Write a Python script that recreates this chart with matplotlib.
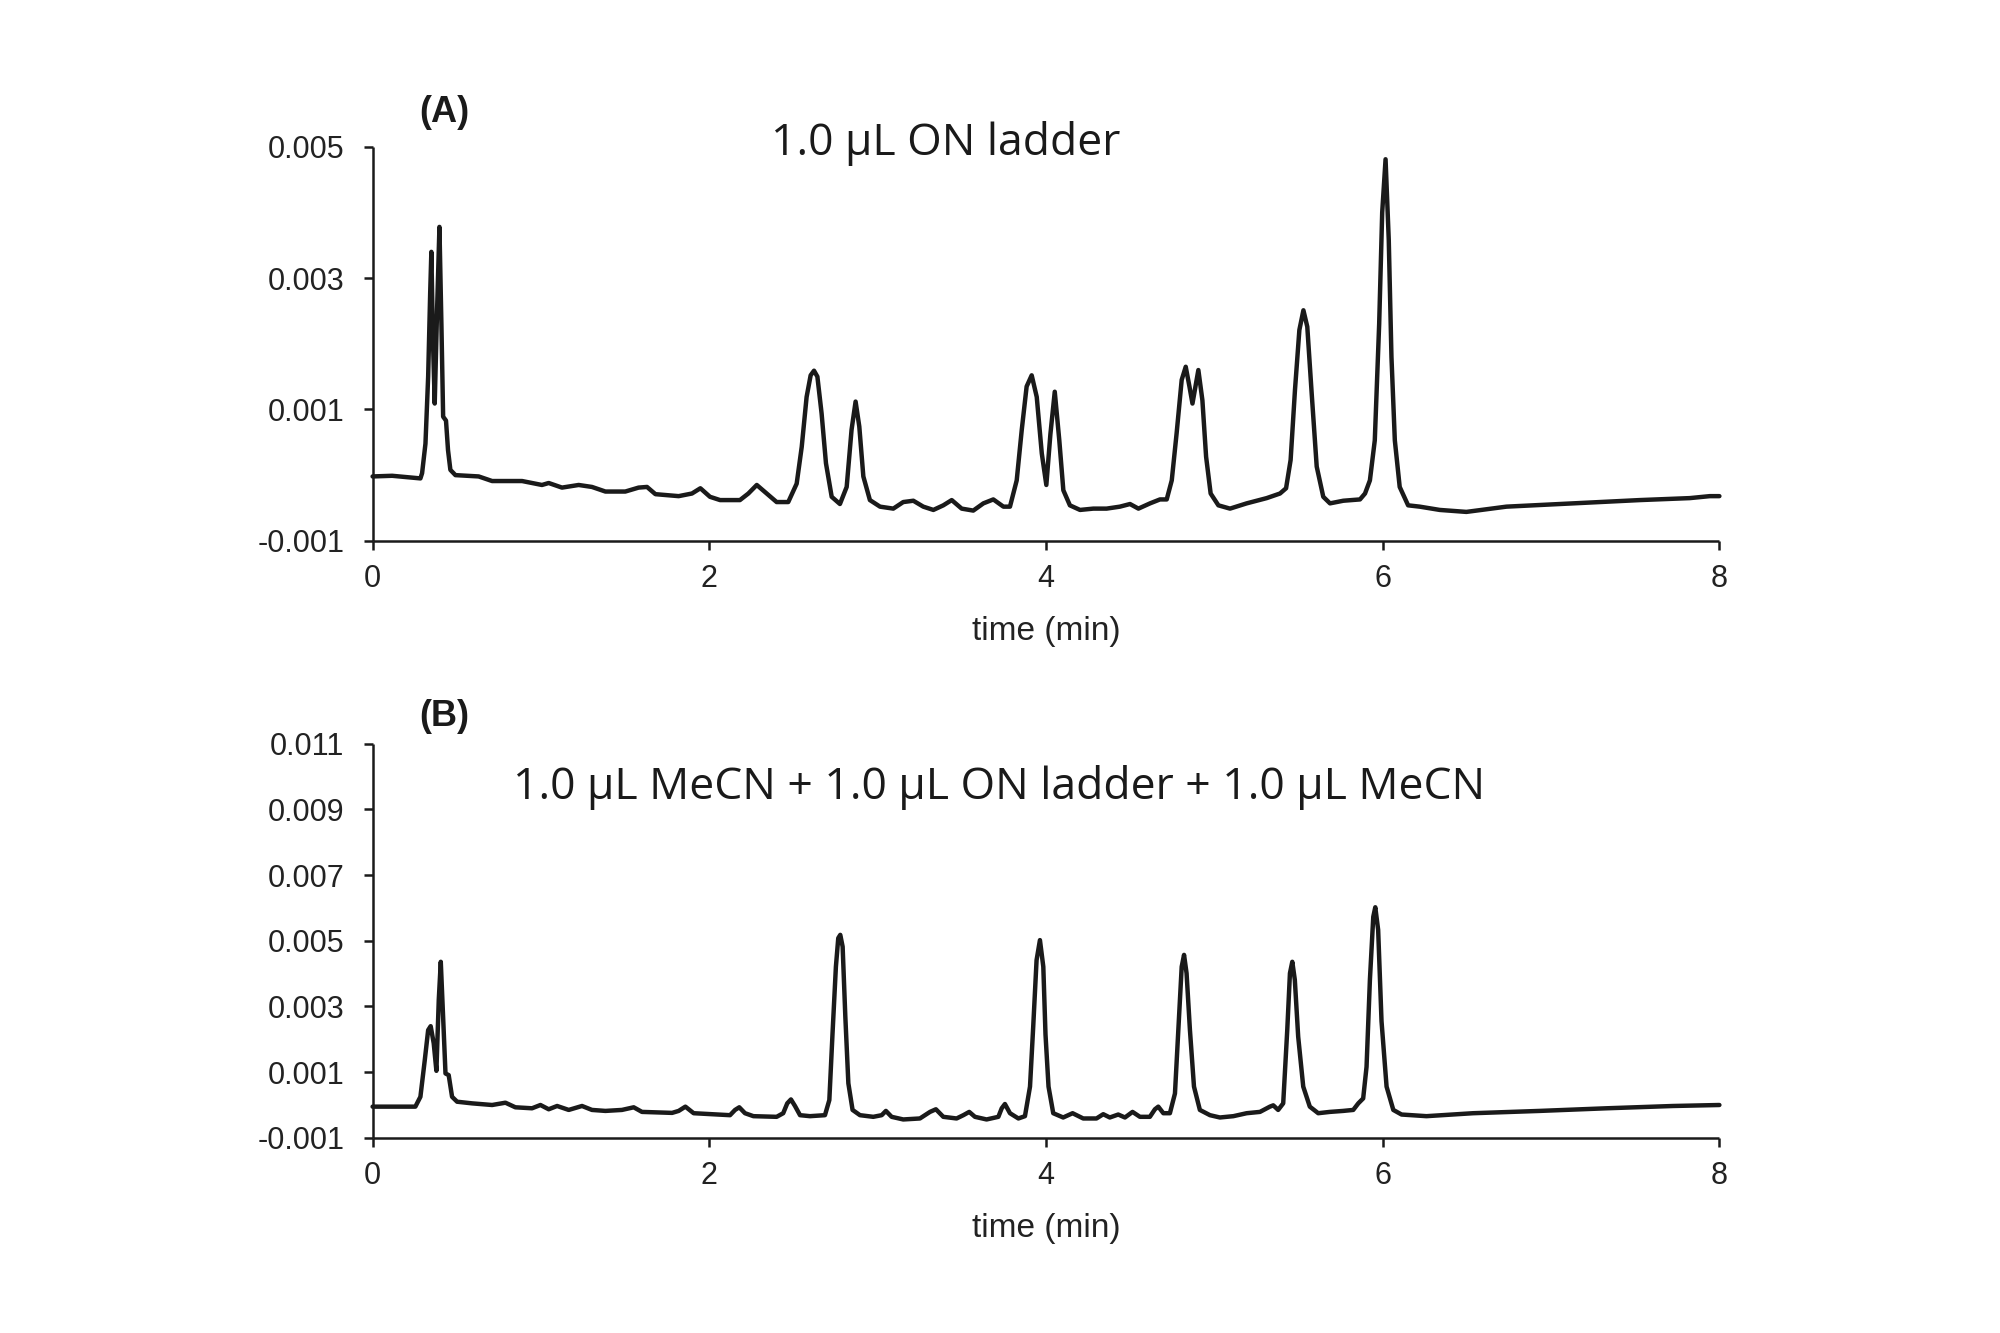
import numpy as np
import matplotlib.pyplot as plt

# chromatogram (A): 1.0 uL ON ladder
time_a = [0.000, 0.116, 0.284, 0.294, 0.314, 0.330, 0.342, 0.349, 0.359, 0.369,
          0.383, 0.397, 0.409, 0.419, 0.436, 0.448, 0.462, 0.492, 0.630, 0.710,
          0.888, 1.006, 1.046, 1.125, 1.224, 1.303, 1.383, 1.501, 1.580, 1.630,
          1.680, 1.818, 1.897, 1.947, 2.004, 2.064, 2.182, 2.232, 2.282, 2.341,
          2.400, 2.469, 2.519, 2.549, 2.578, 2.602, 2.622, 2.642, 2.667, 2.693,
          2.727, 2.776, 2.816, 2.845, 2.869, 2.891, 2.915, 2.954, 3.014, 3.093,
          3.152, 3.212, 3.271, 3.331, 3.390, 3.440, 3.499, 3.568, 3.628, 3.687,
          3.747, 3.786, 3.826, 3.856, 3.885, 3.915, 3.945, 3.975, 4.002, 4.026,
          4.052, 4.079, 4.103, 4.142, 4.202, 4.281, 4.360, 4.439, 4.499, 4.549,
          4.618, 4.677, 4.717, 4.747, 4.776, 4.806, 4.830, 4.852, 4.870, 4.888,
          4.905, 4.929, 4.951, 4.978, 5.024, 5.093, 5.192, 5.311, 5.390, 5.426,
          5.453, 5.479, 5.505, 5.529, 5.552, 5.578, 5.608, 5.647, 5.687, 5.766,
          5.865, 5.895, 5.924, 5.953, 5.979, 5.997, 6.017, 6.036, 6.052, 6.072,
          6.101, 6.151, 6.220, 6.339, 6.497, 6.735, 7.131, 7.527, 7.824, 7.943,
          8.000]
signal_a = [-0.00002, -0.00001, -0.00005, 0.00003, 0.00048, 0.00150, 0.00277, 0.00340, 0.00201, 0.00109,
            0.00251, 0.00378, 0.00226, 0.00089, 0.00083, 0.00038, 0.00008, 0.00000, -0.00002, -0.00009,
            -0.00009, -0.00015, -0.00012, -0.00019, -0.00015, -0.00018, -0.00025, -0.00025, -0.00019, -0.00018,
            -0.00029, -0.00032, -0.00028, -0.00020, -0.00033, -0.00038, -0.00038, -0.00028, -0.00015, -0.00028,
            -0.00041, -0.00041, -0.00013, 0.00043, 0.00119, 0.00152, 0.00159, 0.00150, 0.00094, 0.00018,
            -0.00033, -0.00044, -0.00018, 0.00069, 0.00112, 0.00074, -0.00002, -0.00038, -0.00048, -0.00051,
            -0.00041, -0.00039, -0.00048, -0.00053, -0.00046, -0.00038, -0.00051, -0.00054, -0.00043, -0.00037,
            -0.00048, -0.00048, -0.00008, 0.00069, 0.00135, 0.00152, 0.00119, 0.00033, -0.00015, 0.00062,
            0.00127, 0.00053, -0.00023, -0.00046, -0.00053, -0.00051, -0.00051, -0.00048, -0.00044, -0.00051,
            -0.00043, -0.00037, -0.00037, -0.00008, 0.00064, 0.00145, 0.00165, 0.00135, 0.00109, 0.00135,
            0.00160, 0.00114, 0.00028, -0.00028, -0.00046, -0.00051, -0.00043, -0.00035, -0.00028, -0.00020,
            0.00023, 0.00130, 0.00221, 0.00251, 0.00226, 0.00125, 0.00013, -0.00033, -0.00043, -0.00039,
            -0.00037, -0.00028, -0.00008, 0.00053, 0.00230, 0.00400, 0.00481, 0.00358, 0.00180, 0.00053,
            -0.00018, -0.00046, -0.00048, -0.00053, -0.00056, -0.00048, -0.00043, -0.00038, -0.00035, -0.00032,
            -0.00032]

# chromatogram (B): MeCN sandwich injection
time_b = [0.000, 0.254, 0.284, 0.310, 0.330, 0.345, 0.363, 0.379, 0.393, 0.405,
          0.419, 0.433, 0.452, 0.472, 0.502, 0.591, 0.710, 0.789, 0.848, 0.947,
          0.997, 1.046, 1.096, 1.165, 1.244, 1.303, 1.383, 1.481, 1.551, 1.600,
          1.779, 1.818, 1.858, 1.907, 1.945, 2.016, 2.123, 2.153, 2.178, 2.212,
          2.262, 2.400, 2.439, 2.463, 2.485, 2.509, 2.539, 2.598, 2.687, 2.713,
          2.732, 2.752, 2.766, 2.778, 2.792, 2.808, 2.826, 2.851, 2.895, 2.974,
          3.024, 3.049, 3.083, 3.152, 3.251, 3.311, 3.346, 3.390, 3.469, 3.509,
          3.544, 3.578, 3.647, 3.717, 3.737, 3.756, 3.786, 3.836, 3.875, 3.905,
          3.924, 3.944, 3.964, 3.984, 3.997, 4.015, 4.043, 4.102, 4.158, 4.221,
          4.300, 4.340, 4.379, 4.429, 4.469, 4.514, 4.558, 4.617, 4.647, 4.667,
          4.697, 4.736, 4.766, 4.786, 4.806, 4.820, 4.835, 4.855, 4.879, 4.914,
          4.974, 5.033, 5.113, 5.192, 5.271, 5.330, 5.350, 5.379, 5.409, 5.433,
          5.449, 5.463, 5.478, 5.498, 5.528, 5.567, 5.617, 5.686, 5.765, 5.825,
          5.855, 5.884, 5.904, 5.924, 5.944, 5.956, 5.973, 5.993, 6.023, 6.063,
          6.112, 6.260, 6.537, 6.933, 7.329, 7.725, 8.000]
signal_b = [-0.00005, -0.00005, 0.00025, 0.00137, 0.00228, 0.00240, 0.00188, 0.00104, 0.00320, 0.00436,
            0.00269, 0.00096, 0.00091, 0.00025, 0.00010, 0.00005, 0.00000, 0.00007, -0.00007, -0.00010,
            0.00000, -0.00013, -0.00003, -0.00015, -0.00003, -0.00015, -0.00018, -0.00015, -0.00007, -0.00021,
            -0.00024, -0.00018, -0.00005, -0.00025, -0.00026, -0.00028, -0.00031, -0.00015, -0.00007, -0.00025,
            -0.00034, -0.00036, -0.00025, 0.00005, 0.00017, -0.00003, -0.00031, -0.00034, -0.00031, 0.00015,
            0.00218, 0.00421, 0.00508, 0.00518, 0.00482, 0.00269, 0.00066, -0.00015, -0.00031, -0.00036,
            -0.00031, -0.00018, -0.00036, -0.00044, -0.00041, -0.00021, -0.00013, -0.00036, -0.00041, -0.00031,
            -0.00021, -0.00036, -0.00044, -0.00036, -0.00010, 0.00003, -0.00025, -0.00041, -0.00034, 0.00056,
            0.00238, 0.00441, 0.00502, 0.00421, 0.00215, 0.00056, -0.00025, -0.00038, -0.00025, -0.00041,
            -0.00041, -0.00028, -0.00038, -0.00029, -0.00038, -0.00021, -0.00036, -0.00036, -0.00013, -0.00005,
            -0.00025, -0.00025, 0.00035, 0.00228, 0.00421, 0.00457, 0.00401, 0.00228, 0.00056, -0.00015,
            -0.00031, -0.00038, -0.00034, -0.00025, -0.00021, -0.00005, -0.00001, -0.00015, 0.00005, 0.00228,
            0.00401, 0.00436, 0.00381, 0.00208, 0.00056, -0.00005, -0.00025, -0.00021, -0.00018, -0.00015,
            0.00005, 0.00020, 0.00116, 0.00381, 0.00573, 0.00602, 0.00533, 0.00255, 0.00056, -0.00015,
            -0.00029, -0.00034, -0.00025, -0.00018, -0.00010, -0.00003, 0.00000]

x_ticks = [0, 2, 4, 6, 8]
y_ticks_a = [-0.001, 0.001, 0.003, 0.005]
y_ticks_b = [-0.001, 0.001, 0.003, 0.005, 0.007, 0.009, 0.011]
title_a = "1.0 μL ON ladder"
title_b = "1.0 μL MeCN + 1.0 μL ON ladder + 1.0 μL MeCN"

plt.rcParams['font.family'] = ['Liberation Sans', 'DejaVu Sans']

fig = plt.figure(figsize=(20, 13.33), dpi=100)
ax_a = fig.add_axes([0.1863, 0.5943, 0.6734, 0.2956])
ax_b = fig.add_axes([0.1863, 0.1464, 0.6734, 0.2957])

def style(ax, yt):
    ax.set_xlim(0, 8)
    ax.set_ylim(yt[0], yt[-1])
    ax.set_xticks(x_ticks)
    ax.set_yticks(yt)
    ax.set_yticklabels([("%.3f" % v) for v in yt])
    ax.spines['top'].set_visible(False)
    ax.spines['right'].set_visible(False)
    for s in ['left', 'bottom']:
        ax.spines[s].set_linewidth(1.8)
        ax.spines[s].set_color('#1a1a1a')
        ax.spines[s].set_capstyle('butt')
    ax.tick_params(axis='both', direction='out', length=6.5, width=1.8,
                   color='#1a1a1a', labelsize=22, labelcolor='#222222')
    ax.tick_params(axis='y', pad=14)
    ax.tick_params(axis='x', pad=10)
    ax.set_xlabel("time (min)", fontsize=24, color='#222222', labelpad=16)
    ax.set_facecolor('none')

ax_a.plot(time_a, signal_a, color='#1a1a1a', lw=3.2, solid_joinstyle='round',
          solid_capstyle='round', clip_on=False)
ax_b.plot(time_b, signal_b, color='#1a1a1a', lw=3.2, solid_joinstyle='round',
          solid_capstyle='round', clip_on=False)
style(ax_a, y_ticks_a)
style(ax_b, y_ticks_b)

fig.text(444 / 2000, 1 - 112 / 1333, "(A)", fontsize=26, fontweight='bold',
         ha='center', va='center', color='#1a1a1a')
fig.text(444 / 2000, 1 - 717 / 1333, "(B)", fontsize=26, fontweight='bold',
         ha='center', va='center', color='#1a1a1a')
fig.text(946 / 2000, 1 - 143 / 1333, title_a, fontsize=32, family=['Open Sans', 'DejaVu Sans'],
         ha='center', va='center', color='#1a1a1a')
fig.text(999 / 2000, 1 - 788 / 1333, title_b, fontsize=32, family=['Open Sans', 'DejaVu Sans'],
         ha='center', va='center', color='#1a1a1a')

fig.savefig("out.png", dpi=100, facecolor='white')
